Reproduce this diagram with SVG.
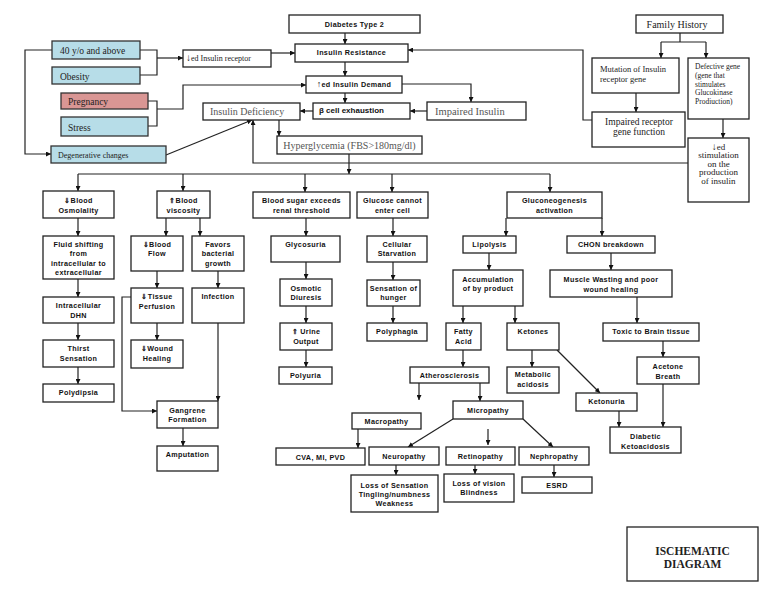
<svg xmlns="http://www.w3.org/2000/svg" width="768" height="594" viewBox="0 0 768 594">
<defs>
<marker id="ah" viewBox="0 0 10 10" refX="10" refY="5" markerWidth="5" markerHeight="5" orient="auto" markerUnits="userSpaceOnUse"><path d="M0,0 L10,5 L0,10 z" fill="#111"/></marker>
</defs>
<style>
.b{fill:#fff;stroke:#222;stroke-width:1.3}
.blue{fill:#b7dde8;stroke:#333;stroke-width:1.3}
.pink{fill:#d99694;stroke:#333;stroke-width:1.3}
.t{font-family:"Liberation Sans",Arial,sans-serif;font-weight:bold;font-size:7.2px;letter-spacing:0.35px;fill:#111;text-anchor:middle}
.s{font-family:"Liberation Serif","Times New Roman",serif;fill:#222}
.g{fill:#555}
.c line,.c path{stroke:#222;stroke-width:1.2;fill:none}
.a{marker-end:url(#ah)}
</style>
<rect width="768" height="594" fill="#fff"/>

<g class="c" id="connectors">
<path class="a" d="M345,33 V44"/>
<path class="a" d="M345,62 V76"/>
<path class="a" d="M345,93 V103"/>
<path class="a" d="M402,84 H471 V102"/>
<path class="a" d="M427,111 H410"/>
<path class="a" d="M313,111 H300"/>
<path class="a" d="M279,120 V136"/>
<path d="M140,50 H157 V75 H140"/>
<path class="a" d="M157,58 H183"/>
<path class="a" d="M271,53 H295"/>
<path d="M148,101 H157 V126 H148"/>
<path class="a" d="M157,109 H183 V85 H306"/>
<path class="a" d="M52,50 H25 V154 H51"/>
<path class="a" d="M166,155 L252,120"/>
<path class="a" d="M688,163 H253 V120"/>
<path d="M680,33 V42 M661,42 H706"/>
<path class="a" d="M661,42 V58"/>
<path class="a" d="M706,42 V58"/>
<path class="a" d="M636,93 V112"/>
<path class="a" d="M592,120 H583 V50 H408"/>
<path class="a" d="M723,119 V138"/>
<path class="a" d="M349,154 V174"/>
<path d="M78,174 H550"/>
<path class="a" d="M78,174 V191"/>
<path class="a" d="M183,174 V191"/>
<path class="a" d="M305,174 V192"/>
<path class="a" d="M392,174 V192"/>
<path class="a" d="M550,174 V192"/>
<path class="a" d="M78,218 V236"/>
<path class="a" d="M78,279 V297"/>
<path class="a" d="M78,323 V340"/>
<path class="a" d="M78,367 V384"/>
<path class="a" d="M166,218 V236"/>
<path class="a" d="M200,218 V236"/>
<path class="a" d="M157,271 V288"/>
<path class="a" d="M157,323 V340"/>
<path class="a" d="M218,271 V288"/>
<path class="a" d="M218,323 V401"/>
<path class="a" d="M131,297 H122 V411 H157"/>
<path class="a" d="M183,428 V446"/>
<path class="a" d="M306,218 V236"/>
<path class="a" d="M306,262 V279"/>
<path class="a" d="M306,306 V323"/>
<path class="a" d="M306,350 V367"/>
<path class="a" d="M393,218 V236"/>
<path class="a" d="M393,262 V280"/>
<path class="a" d="M393,306 V323"/>
<path class="a" d="M506,218 V236"/>
<path class="a" d="M602,218 V236"/>
<path class="a" d="M489,253 V270"/>
<path class="a" d="M611,253 V270"/>
<path class="a" d="M463,306 V323"/>
<path class="a" d="M515,306 V323"/>
<path class="a" d="M637,297 V323"/>
<path class="a" d="M663,341 V357"/>
<path class="a" d="M463,350 V367"/>
<path class="a" d="M532,350 V367"/>
<path class="a" d="M557,350 L600,393"/>
<path class="a" d="M663,384 V427"/>
<path class="a" d="M619,411 V427"/>
<path class="a" d="M419,383 V400"/>
<path class="a" d="M480,383 V401"/>
<path class="a" d="M453,419 L408,447"/>
<path class="a" d="M523,419 L553,447"/>
<path class="a" d="M488,429 V445"/>
<path class="a" d="M358,429 V448"/>
<path class="a" d="M396,465 V475"/>
<path class="a" d="M475,465 V474"/>
<path class="a" d="M554,465 V477"/>
</g>

<g id="n-diabetes"><rect class="b" x="289" y="15" width="131" height="18"/><text class="t" x="354.5" y="26.5">Diabetes Type 2</text></g>
<g id="n-resistance"><rect class="b" x="295" y="44" width="113" height="18"/><text class="t" x="351.5" y="55">Insulin Resistance</text></g>
<g id="n-demand"><rect class="b" x="306" y="76" width="96" height="17"/><text class="t" x="354" y="87"><tspan font-size="9">↑</tspan>ed Insulin Demand</text></g>
<g id="n-beta"><rect class="b" x="313" y="103" width="97" height="16"/><text class="t" x="319" y="113" style="text-anchor:start;font-size:8px;letter-spacing:0">β cell exhaustion</text></g>
<g id="n-impaired"><rect class="b" x="427" y="102" width="99" height="18"/><text class="s g" x="435" y="115" font-size="10.5">Impaired Insulin</text></g>
<g id="n-deficiency"><rect class="b" x="203" y="103" width="97" height="17"/><text class="s g" x="210" y="115" font-size="10">Insulin Deficiency</text></g>
<g id="n-hyper"><rect class="b" x="277" y="136" width="145" height="18"/><text class="s g" x="349.5" y="148.5" font-size="10" text-anchor="middle">Hyperglycemia (FBS&gt;180mg/dl)</text></g>

<g id="n-age"><rect class="blue" x="52" y="41" width="88" height="18"/><text class="s" x="60" y="54" font-size="9.5">40 y/o and above</text></g>
<g id="n-obesity"><rect class="blue" x="52" y="67" width="88" height="17"/><text class="s" x="60" y="80" font-size="9.5">Obesity</text></g>
<g id="n-pregnancy"><rect class="pink" x="61" y="93" width="87" height="16"/><text class="s" x="68" y="104.5" font-size="9.5">Pregnancy</text></g>
<g id="n-stress"><rect class="blue" x="61" y="117" width="87" height="19"/><text class="s" x="68" y="130.5" font-size="9.5">Stress</text></g>
<g id="n-degen"><rect class="blue" x="51" y="146" width="115" height="17"/><text class="s" x="58" y="157.5" font-size="8">Degenerative changes</text></g>
<g id="n-receptor"><rect class="b" x="183" y="50" width="88" height="17"/><text class="s" x="186" y="61" font-size="8"><tspan font-size="10">↓</tspan>ed Insulin receptor</text></g>

<g id="n-family"><rect class="b" x="636" y="15" width="87" height="18"/><text class="s" x="677" y="27.5" font-size="10" text-anchor="middle">Family History</text></g>
<g id="n-mutation"><rect class="b" x="592" y="58" width="87" height="35"/><text class="s" x="600" y="71.5" font-size="8.5">Mutation of Insulin</text><text class="s" x="600" y="82" font-size="8.5">receptor gene</text></g>
<g id="n-defective"><rect class="b" x="688" y="58" width="61" height="61"/><text class="s" font-size="7.5"><tspan x="695" y="69">Defective gene</tspan><tspan x="695" y="78">(gene that</tspan><tspan x="695" y="86.5">stimulates</tspan><tspan x="695" y="95">Glucokinase</tspan><tspan x="695" y="103.5">Prodiuction)</tspan></text></g>
<g id="n-receptorfn"><rect class="b" x="592" y="112" width="93" height="35"/><text class="s" font-size="9.5" text-anchor="middle"><tspan x="639" y="125">Impaired receptor</tspan><tspan x="639" y="135">gene function</tspan></text></g>
<g id="n-stimulation"><rect class="b" x="688" y="138" width="61" height="64"/><text class="s" font-size="9" text-anchor="middle"><tspan x="718.5" y="149.5"><tspan font-size="10">↓</tspan>ed</tspan><tspan x="718.5" y="158">stimulation</tspan><tspan x="718.5" y="166.5">on the</tspan><tspan x="718.5" y="175">production</tspan><tspan x="718.5" y="183.5">of insulin</tspan></text></g>

<g id="n-osmolality"><rect class="b" x="43" y="191" width="71" height="27"/><text class="t"><tspan x="78.5" y="203">⇓Blood</tspan><tspan x="78.5" y="212.5">Osmolality</tspan></text></g>
<g id="n-fluid"><rect class="b" x="43" y="236" width="71" height="43"/><text class="t"><tspan x="78.5" y="246.8">Fluid shifting</tspan><tspan x="78.5" y="256">from</tspan><tspan x="78.5" y="266">intracellular to</tspan><tspan x="78.5" y="275">extracellular</tspan></text></g>
<g id="n-dhn"><rect class="b" x="43" y="297" width="71" height="26"/><text class="t"><tspan x="78.5" y="307.5">Intracellular</tspan><tspan x="78.5" y="317.5">DHN</tspan></text></g>
<g id="n-thirst"><rect class="b" x="43" y="340" width="71" height="27"/><text class="t"><tspan x="78.5" y="351">Thirst</tspan><tspan x="78.5" y="361">Sensation</tspan></text></g>
<g id="n-polydipsia"><rect class="b" x="43" y="384" width="71" height="18"/><text class="t" x="78.5" y="395">Polydipsia</text></g>

<g id="n-viscosity"><rect class="b" x="157" y="191" width="53" height="27"/><text class="t"><tspan x="183.5" y="203">⇑Blood</tspan><tspan x="183.5" y="212.5">viscosity</tspan></text></g>
<g id="n-flow"><rect class="b" x="131" y="236" width="52" height="35"/><text class="t"><tspan x="157" y="246.5">⇓Blood</tspan><tspan x="157" y="256">Flow</tspan></text></g>
<g id="n-favors"><rect class="b" x="192" y="236" width="52" height="35"/><text class="t"><tspan x="218" y="246.5">Favors</tspan><tspan x="218" y="256">bacterial</tspan><tspan x="218" y="265.5">growth</tspan></text></g>
<g id="n-perfusion"><rect class="b" x="131" y="288" width="52" height="35"/><text class="t"><tspan x="157" y="299">⇓Tissue</tspan><tspan x="157" y="308.5">Perfusion</tspan></text></g>
<g id="n-infection"><rect class="b" x="192" y="288" width="52" height="35"/><text class="t" x="218" y="299">Infection</text></g>
<g id="n-wound"><rect class="b" x="131" y="340" width="52" height="28"/><text class="t"><tspan x="157" y="350.5">⇓Wound</tspan><tspan x="157" y="360.5">Healing</tspan></text></g>
<g id="n-gangrene"><rect class="b" x="157" y="401" width="61" height="27"/><text class="t"><tspan x="187.5" y="413">Gangrene</tspan><tspan x="187.5" y="422">Formation</tspan></text></g>
<g id="n-amputation"><rect class="b" x="157" y="446" width="61" height="25"/><text class="t" x="187.5" y="456.5">Amputation</text></g>

<g id="n-renal"><rect class="b" x="253" y="192" width="97" height="26"/><text class="t"><tspan x="301.5" y="203">Blood sugar exceeds</tspan><tspan x="301.5" y="212.5">renal threshold</tspan></text></g>
<g id="n-glycosuria"><rect class="b" x="271" y="236" width="69" height="26"/><text class="t" x="305.5" y="247">Glycosuria</text></g>
<g id="n-diuresis"><rect class="b" x="280" y="279" width="52" height="27"/><text class="t"><tspan x="306" y="291">Osmotic</tspan><tspan x="306" y="300">Diuresis</tspan></text></g>
<g id="n-urine"><rect class="b" x="280" y="323" width="52" height="27"/><text class="t"><tspan x="306" y="334">⇑ Urine</tspan><tspan x="306" y="344">Output</tspan></text></g>
<g id="n-polyuria"><rect class="b" x="279" y="367" width="53" height="17"/><text class="t" x="305.5" y="377.5">Polyuria</text></g>

<g id="n-glucose"><rect class="b" x="357" y="192" width="71" height="26"/><text class="t"><tspan x="392.5" y="203">Glucose cannot</tspan><tspan x="392.5" y="212.5">enter cell</tspan></text></g>
<g id="n-starvation"><rect class="b" x="367" y="236" width="60" height="26"/><text class="t"><tspan x="397" y="247">Cellular</tspan><tspan x="397" y="256">Starvation</tspan></text></g>
<g id="n-hunger"><rect class="b" x="367" y="280" width="53" height="26"/><text class="t"><tspan x="393.5" y="291">Sensation of</tspan><tspan x="393.5" y="300">hunger</tspan></text></g>
<g id="n-polyphagia"><rect class="b" x="367" y="323" width="60" height="18"/><text class="t" x="397" y="334">Polyphagia</text></g>

<g id="n-gluconeo"><rect class="b" x="507" y="192" width="95" height="26"/><text class="t"><tspan x="554.5" y="203">Gluconeogenesis</tspan><tspan x="554.5" y="212.5">activation</tspan></text></g>
<g id="n-lipolysis"><rect class="b" x="463" y="236" width="53" height="17"/><text class="t" x="489.5" y="247">Lipolysis</text></g>
<g id="n-chon"><rect class="b" x="567" y="236" width="88" height="17"/><text class="t" x="611" y="247">CHON breakdown</text></g>
<g id="n-accum"><rect class="b" x="453" y="270" width="70" height="36"/><text class="t"><tspan x="488" y="281.5">Accumulation</tspan><tspan x="488" y="291">of by product</tspan></text></g>
<g id="n-muscle"><rect class="b" x="550" y="270" width="122" height="27"/><text class="t"><tspan x="611" y="281.5">Muscle Wasting and poor</tspan><tspan x="611" y="291.5">wound healing</tspan></text></g>
<g id="n-fatty"><rect class="b" x="446" y="323" width="35" height="27"/><text class="t"><tspan x="463.5" y="334">Fatty</tspan><tspan x="463.5" y="344">Acid</tspan></text></g>
<g id="n-ketones"><rect class="b" x="507" y="323" width="52" height="27"/><text class="t" x="533" y="334">Ketones</text></g>
<g id="n-toxic"><rect class="b" x="603" y="323" width="96" height="18"/><text class="t" x="651" y="334">Toxic to Brain tissue</text></g>
<g id="n-athero"><rect class="b" x="410" y="367" width="79" height="16"/><text class="t" x="449.5" y="377.5">Atherosclerosis</text></g>
<g id="n-metabolic"><rect class="b" x="507" y="367" width="52" height="26"/><text class="t"><tspan x="533" y="377">Metabolic</tspan><tspan x="533" y="387">acidosis</tspan></text></g>
<g id="n-acetone"><rect class="b" x="637" y="357" width="62" height="27"/><text class="t"><tspan x="668" y="369">Acetone</tspan><tspan x="668" y="378.5">Breath</tspan></text></g>
<g id="n-ketonuria"><rect class="b" x="576" y="393" width="61" height="18"/><text class="t" x="606.5" y="404">Ketonuria</text></g>
<g id="n-dka"><rect class="b" x="610" y="427" width="71" height="26"/><text class="t"><tspan x="645.5" y="439">Diabetic</tspan><tspan x="645.5" y="448.5">Ketoacidosis</tspan></text></g>
<g id="n-micro"><rect class="b" x="453" y="401" width="70" height="18"/><text class="t" x="488" y="412.5">Micropathy</text></g>
<g id="n-macro"><rect class="b" x="352" y="413" width="69" height="16"/><text class="t" x="386.5" y="423.5">Macropathy</text></g>
<g id="n-cva"><rect class="b" x="276" y="448" width="89" height="17"/><text class="t" x="320.5" y="459.5">CVA, MI, PVD</text></g>
<g id="n-neuro"><rect class="b" x="369" y="447" width="70" height="18"/><text class="t" x="404" y="459">Neuropathy</text></g>
<g id="n-retino"><rect class="b" x="446" y="447" width="69" height="18"/><text class="t" x="480.5" y="459">Retinopathy</text></g>
<g id="n-nephro"><rect class="b" x="519" y="447" width="70" height="18"/><text class="t" x="554" y="459">Nephropathy</text></g>
<g id="n-sensation"><rect class="b" x="351" y="475" width="87" height="37"/><text class="t"><tspan x="394.5" y="487.5">Loss of Sensation</tspan><tspan x="394.5" y="497">Tingling/numbness</tspan><tspan x="394.5" y="506">Weakness</tspan></text></g>
<g id="n-vision"><rect class="b" x="444" y="474" width="70" height="28"/><text class="t"><tspan x="479" y="486">Loss of vision</tspan><tspan x="479" y="495">Blindness</tspan></text></g>
<g id="n-esrd"><rect class="b" x="522" y="477" width="70" height="16"/><text class="t" x="557" y="488">ESRD</text></g>

<g id="n-title"><rect class="b" x="627" y="527" width="131" height="54"/><text class="s" font-size="11.5" font-weight="bold" text-anchor="middle" fill="#222"><tspan x="692.5" y="554.5">ISCHEMATIC</tspan><tspan x="692.5" y="568">DIAGRAM</tspan></text></g>
</svg>
